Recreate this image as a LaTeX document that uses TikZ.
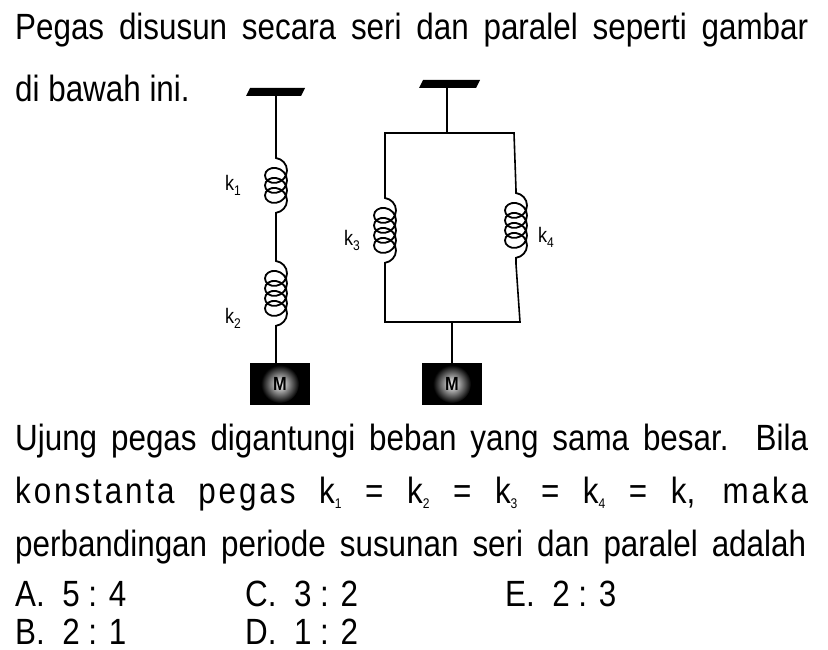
\documentclass[tikz,border=0pt]{standalone}
\usepackage{fontspec}
\setmainfont{Liberation Sans}[FakeStretch=0.86]
\usetikzlibrary{decorations.pathmorphing}
\newcommand{\sbs}[1]{\raisebox{-5pt}{\fontsize{14}{16}\selectfont #1}}
\newcommand{\fl}[2]{\makebox[#1][s]{#2}}
\tikzset{
  txt/.style={anchor=base west,inner sep=0pt,font=\fontsize{36.5}{40}\selectfont},
  lbl/.style={inner sep=0pt,font=\fontsize{21}{22}\selectfont},
  wire/.style={line width=1.6pt},
  spring/.style={line width=1.8pt,decorate,decoration={coil,aspect=0.9,amplitude=11pt,segment length=10pt,pre length=3pt,post length=3pt}},
  mass/.style={fill=black,minimum width=60pt,minimum height=42pt,inner sep=0pt},
  ceil/.style={fill=black}
}
\newcommand{\massbox}[2]{%
  \node[mass] (#1) at #2 {};
  \shade[inner color=white,outer color=black] #2 circle (19pt);
  \node[font=\bfseries\fontsize{19}{20}\selectfont,inner sep=0pt] at #2 {M};}
\begin{document}
\begin{tikzpicture}[x=1pt,y=-1pt]
\useasboundingbox (0,0) rectangle (828,650);
% text
\node[txt] (t1) at (15,40) {\fl{793pt}{Pegas disusun secara seri dan paralel seperti gambar}};
\node[txt] (t2) at (15,102) {di bawah ini.};
\node[txt] (t3) at (15,450) {\fl{793pt}{Ujung pegas digantungi beban yang sama besar. Bila}};
\node[txt] (t4) at (15,503) {\fl{793pt}{{\addfontfeature{LetterSpace=8}konstanta} {\addfontfeature{LetterSpace=8}pegas} k\sbs{1} = k\sbs{2} = k\sbs{3} = k\sbs{4} = k, {\addfontfeature{LetterSpace=8}maka}}};
\node[txt] (t5) at (15,556) {\fl{791pt}{perbandingan periode susunan seri dan paralel adalah}};
\node[txt] (a) at (15,606) {A.\ \ 5 : 4};
\node[txt] (b) at (15,644) {B.\ \ 2 : 1};
\node[txt] (c) at (245,606) {C.\ \ 3 : 2};
\node[txt] (d) at (245,644) {D.\ \ 1 : 2};
\node[txt] (e) at (505,606) {E.\ \ 2 : 3};
% series
\fill[ceil] (250,88) -- (305,88) -- (301,96) -- (246,96) -- cycle;
\coordinate (s0) at (276,93);
\coordinate (s1) at (276,155);
\coordinate (s2) at (276,225);
\coordinate (s3) at (276,258);
\coordinate (s4) at (276,330);
\massbox{m1}{(280,384)}
\draw[wire] (s0) -- (s1);
\draw[spring] (s1) -- (s2);
\draw[wire] (s2) -- (s3);
\draw[spring] (s3) -- (s4);
\draw[wire] (s4) -- (m1.north -| s4);
\node[lbl] (k1) at (233,185) {k\sbs{1}};
\node[lbl] (k2) at (233,318) {k\sbs{2}};
% parallel
\fill[ceil] (423,80) -- (480,80) -- (476,88) -- (419,88) -- cycle;
\coordinate (p0) at (447,85);
\coordinate (pt) at (447,133);
\coordinate (lt) at (385,133);
\coordinate (rt) at (514,133);
\coordinate (l1) at (385,195);
\coordinate (l2) at (385,268);
\coordinate (r1) at (516,190);
\coordinate (r2) at (516,264);
\coordinate (lb) at (385,322);
\coordinate (rb) at (520,322);
\coordinate (pb) at (452,322);
\massbox{m2}{(452,384)}
\draw[wire] (p0) -- (pt);
\draw[wire] (l1) -- (lt) -- (rt) -- (r1);
\draw[spring] (l1) -- (l2);
\draw[spring] (r1) -- (r2);
\draw[wire] (l2) -- (lb) -- (rb) -- (r2);
\draw[wire] (pb) -- (m2.north);
\node[lbl] (k3) at (352,240) {k\sbs{3}};
\node[lbl] (k4) at (546,237) {k\sbs{4}};
\end{tikzpicture}
\end{document}
